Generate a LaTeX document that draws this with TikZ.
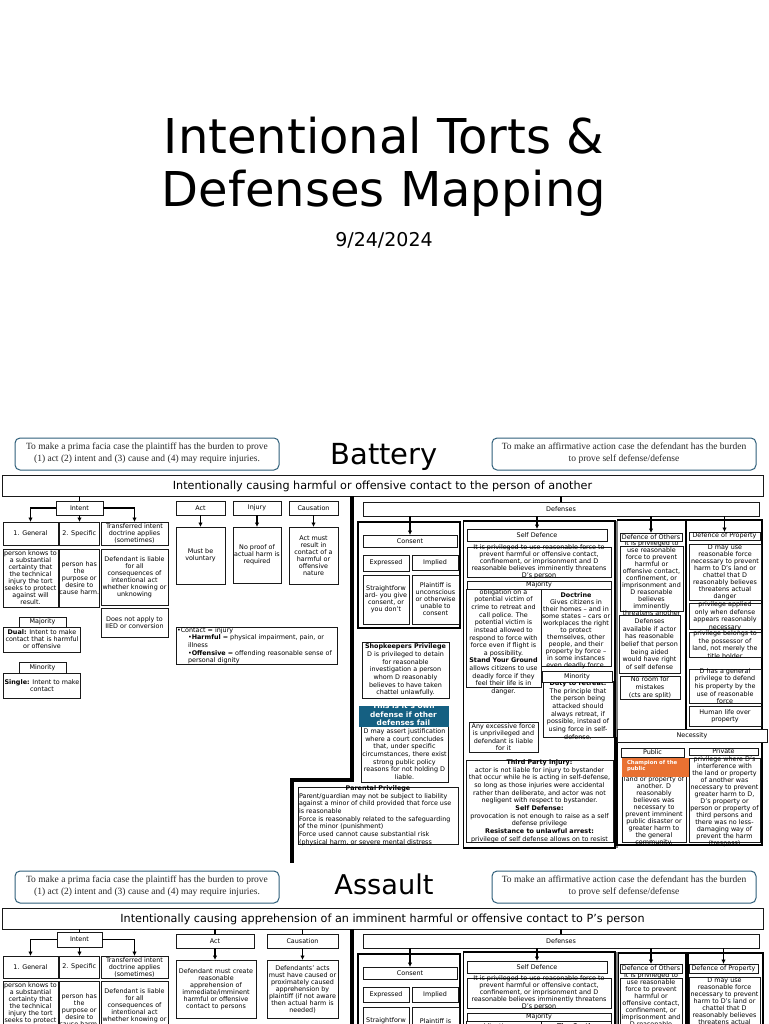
\documentclass[tikz,border=0pt]{standalone}
\usepackage{fontspec}
\setmainfont{DejaVu Sans}
\newfontfamily\serfont{Liberation Serif}
\usetikzlibrary{arrows.meta}
\definecolor{teal1}{HTML}{2F5F7A}
\definecolor{blue1}{HTML}{156082}
\definecolor{orange1}{HTML}{E97132}
\tikzset{
  bxs/.style={draw=black!90,line width=1pt,fill=white,inner sep=0pt,outer sep=0pt,text=black,font=\fontsize{6.4}{7}\selectfont},
  wide/.style={font=\fontsize{6.4}{7.65}\selectfont},
  panel/.style={bxs,draw=black,line width=1.8pt},
  note/.style={bxs,draw=teal1,line width=1pt,rounded corners=5pt,text=black!85,font=\serfont\fontsize{9.5}{11.7}\selectfont},
  banner/.style={bxs,font=\fontsize{11.2}{13}\selectfont},
  conn/.style={draw=black,line width=1.3pt},
  arr/.style={conn,-{Latex[length=4.5pt,width=4.5pt]}},
  thick bar/.style={draw=black,line width=4pt},
  greybar/.style={draw=black!50,line width=2pt},
  big/.style={inner sep=0pt,text=black,align=center}
}
\newcommand{\flatbox}[2]{\setbox0=\hbox{\lower1.6pt\hbox{\parbox[c]{#1}{\centering #2}}}\ht0=0pt\dp0=0pt\box0}
\newcommand{\bx}[7][]{\node[bxs,minimum width={(#5-#3)*1pt},minimum height={(#6-#4)*1pt},#1] (#2) at ({(#3+#5)/2},{(#4+#6)/2}) {\flatbox{\dimexpr#5pt-#3pt}{#7}};}
\begin{document}
\begin{tikzpicture}[x=1pt,y=-1pt]
\path[use as bounding box,clip] (0,0) rectangle (768,1024);
\fill[white] (0,0) rectangle (768,1024);
\node[big,font=\fontsize{48}{53}\selectfont] (title) at (384,167) {Intentional Torts \&\\Defenses Mapping};
\node[big,font=\fontsize{19}{22}\selectfont] (date) at (384,240) {9/24/2024};

%%%% BATTERY
\bx[note]{pa}{15}{438}{279}{470}{To make a prima facia case the plaintiff has the burden to prove\\(1) act (2) intent and (3) cause and (4) may require injuries.}
\bx[note]{da}{492}{438}{756}{470}{To make an affirmative action case the defendant has the burden\\to prove self defense/defense}
\node[big,font=\fontsize{29}{32}\selectfont] (bt) at (384,456.5) {Battery};
\bx[banner]{bb}{2}{475}{763}{496}{\vspace*{3.5pt}Intentionally causing harmful or offensive contact to the person of another}

\bx{bint}{56}{501}{103}{515}{Intent}
\bx{bgen}{3}{522}{58}{545}{1. General}
\bx{bspe}{59}{522}{99.5}{545}{2. Specific}
\bx{btra}{101}{522}{168}{545}{Transferred intent\\doctrine applies\\(sometimes)}
\bx{bk}{3}{549}{58}{607}{person knows to\\a substantial\\certainty that\\the technical\\injury the tort\\seeks to protect\\against will\\result.}
\bx{bh}{59}{549}{99.5}{607}{person has\\the\\purpose or\\desire to\\cause harm.}
\bx{bl}{101}{549}{168}{605}{Defendant is liable\\for all\\consequences of\\intentional act\\whether knowing or\\unknowing}
\bx{bna}{101}{608}{168}{637}{Does not apply to\\IIED or conversion}
\bx{bmaj}{19}{617}{66}{627}{Majority}
\bx{bdual}{3.5}{627}{80.5}{652}{\textbf{Dual:} Intent to make\\contact that is harmful\\or offensive}
\bx{bmin}{19}{662}{66}{673}{Minority}
\bx{bsin}{3.5}{673}{80.5}{698}{\textbf{Single:} Intent to make\\contact}
\bx{bact}{176}{501}{225}{515}{Act}
\bx{binj}{233}{501}{281}{515}{Injury}
\bx{bcau}{289}{501}{338}{515}{Causation}
\bx{bmv}{176}{527}{225}{584}{Must be\\voluntary}
\bx{bnp}{233}{527}{281}{583}{No proof of\\actual harm is\\required}
\bx{bam}{289}{527}{338}{584}{Act must\\result in\\contact of a\\harmful or\\offensive\\nature}
\bx[wide]{bcon}{176}{627}{337}{664}{\raggedright\leftskip=1pt\relax •Contact = injury\\\leftskip=12pt\relax •\textbf{Harmful} = physical impairment, pain, or\\illness\\•\textbf{Offensive} = offending reasonable sense of\\personal dignity}

\draw[conn] (bint.north) -- (bint.north |- bb.south);
\draw[arr] (bint.west) -| (bgen.north);
\draw[arr] (bint.south) -- (bint.south |- bspe.north);
\draw[arr] (bint.east) -| (btra.north);
\draw[arr] (bact.south) -- (bmv.north);
\draw[arr] (binj.south) -- (bnp.north);
\draw[arr] (bcau.south) -- (bam.north);

\coordinate (s1) at (352,496); \coordinate (s2) at (352,780); \coordinate (s3) at (291.5,780); \coordinate (s4) at (291.5,863);
\draw[thick bar,line join=miter] (s1) -- (s2) -- (s3) -- (s4);

\bx{bdef}{363}{502}{759}{516}{Defenses}
\draw[conn] (bdef.north) -- (bdef.north |- bb.south);

\bx[panel]{bp1}{358}{522}{460}{628}{}
\bx[panel]{bp2}{463.5}{521}{615}{848}{}
\bx[panel,line width=1.2pt]{bp3}{617.5}{520}{686}{730}{}
\bx[panel,line width=1.2pt]{bp4}{686}{520}{762}{730}{}
\draw[greybar] ([xshift=1.5pt]bp2.north east) -- ([xshift=1.5pt]bp2.south east);

\bx{bcl}{363}{535}{457}{547}{Consent}
\bx{bex}{363}{555}{409}{571}{Expressed}
\bx{bim}{412}{555}{458}{570}{Implied}
\bx{bst}{363}{575}{409}{624}{Straightforw\\ard- you give\\consent, or\\you don't}
\bx{bpl}{412}{575}{459}{624}{Plaintiff is\\unconscious\\or otherwise\\unable to\\consent}
\draw[arr] (bcl.north |- bdef.south) -- (bcl.north);

\bx[wide]{bsh}{362}{642}{449}{698}{\textbf{Shopkeepers Privilege}\\D is privileged to detain\\for reasonable\\investigation a person\\whom D reasonably\\believes to have taken\\chattel unlawfully.}
\bx[wide]{bjus}{361}{726}{448}{782}{D may assert justification\\where a court concludes\\that, under specific\\circumstances, there exist\\strong public policy\\reasons for not holding D\\liable.}
\node[bxs,draw=blue1,fill=blue1,minimum width=89pt,minimum height=20pt,text=white,align=center,font=\bfseries\fontsize{7.4}{8.6}\selectfont] (bblue) at (403.5,716) {\smash{\parbox[c]{89pt}{\centering This is it's own\\defense if other\\defenses fail}}};
\bx[wide]{bpar}{298}{787}{458}{844}{\textbf{Parental Privilege}\par\raggedright\leftskip=1pt\relax Parent/guardian may not be subject to liability\\against a minor of child provided that force use\\is reasonable\\Force is reasonably related to the safeguarding\\of the minor (punishment)\\Force used cannot cause substantial risk\\(physical harm, or severe mental distress}

\bx{bsl}{467}{529}{607}{541}{Self Defence}
\draw[arr] (bsl.north |- bdef.south) -- (bsl.north);
\bx{bsp}{467}{547}{611}{577}{It is privileged to use reasonable force to\\prevent harmful or offensive contact,\\confinement, or imprisonment and D\\reasonable believes imminently threatens\\D's person}
\bx[wide]{bobl}{466}{589}{541}{687}{\vspace*{8pt}obligation on a\\potential victim of\\crime to retreat and\\call police. The\\potential victim is\\instead allowed to\\respond to force with\\force even if flight is\\a possibility.\\\textbf{Stand Your Ground}\\allows citizens to use\\deadly force if they\\feel their life is in\\danger.}
\bx{bcas}{541}{589}{611}{666}{\textbf{The Castle}\\\textbf{Doctrine}\\Gives citizens in\\their homes -- and in\\some states -- cars or\\workplaces the right\\to protect\\themselves, other\\people, and their\\property by force --\\in some instances\\even deadly force.}
\bx{bmj2}{467}{581}{611}{589}{Majority}
\bx[wide]{bdut}{543}{681}{613}{737}{\vspace*{2pt}\textbf{Duty to retreat:}\\The principle that\\the person being\\attacked should\\always retreat, if\\possible, instead of\\using force in self-\\defense.}
\bx{bmn2}{542}{671}{612}{682}{Minority}
\bx[wide]{bexc}{469}{722}{538}{752}{Any excessive force\\is unprivileged and\\defendant is liable\\for it}
\bx[wide]{b3p}{466}{760}{613}{842}{\textbf{Third Party injury:}\\actor is not liable for injury to bystander\\that occur while he is acting in self-defense,\\so long as those injuries were accidental\\rather than deliberate, and actor was not\\negligent with respect to bystander.\\\textbf{Self Defense:}\\provocation is not enough to raise as a self\\defense privilege\\\textbf{Resistance to unlawful arrest:}\\privilege of self defense allows on to resist}

\bx{bot}{620}{546}{683}{611}{It is privileged to\\use reasonable\\force to prevent\\harmful or\\offensive contact,\\confinement, or\\imprisonment and\\D reasonable\\believes\\imminently\\threatens another}
\bx{bol}{620}{533}{682}{541}{Defence of Others}
\draw[arr] (bol.north |- bdef.south) -- (bol.north);
\bx[wide]{boa}{619}{615}{680}{673}{Defenses\\available if actor\\has reasonable\\belief that person\\being aided\\would have right\\of self defense}
\bx[wide]{bnr}{620}{676}{680}{699}{No room for\\mistakes\\(cts are split)}

\bx{bprl}{689}{532}{760}{540}{Defence of Property}
\draw[arr] (bprl.north |- bdef.south) -- (bprl.north);
\bx{bpr}{689}{544}{761}{600}{D may use\\reasonable force\\necessary to prevent\\harm to D's land or\\chattel that D\\reasonably believes\\threatens actual\\danger}
\bx[wide]{bpa}{689}{603}{761}{629}{privilege applied\\only when defense\\appears reasonably\\necessary}
\bx[wide]{bpb}{689}{632}{761}{657}{privilege belongs to\\the possessor of\\land, not merely the\\title holder}
\bx[wide]{bpg}{689}{669}{761}{703}{D has a general\\privilege to defend\\his property by the\\use of reasonable\\force}
\bx[wide]{bhl}{689}{706}{761}{726}{Human life over\\property}

\bx[panel,line width=1.5pt]{bnp0}{617}{738}{762}{845}{}
\bx{bnec}{617}{729}{767}{742}{Necessity}
\bx{bpub}{621}{748}{684}{757}{Public}
\bx{bpub2}{622}{776}{686}{842}{\vspace*{5pt}land or property of\\another. D\\reasonably\\believes was\\necessary to\\prevent imminent\\public disaster or\\greater harm to\\the general\\community.}
\node[bxs,draw=orange1,fill=orange1,minimum width=66pt,minimum height=18pt,text=white,font=\bfseries\fontsize{5.4}{6.2}\selectfont] (bch) at (655,767) {\smash{\parbox[c]{62pt}{\raggedright\leftskip=3pt\relax Champion of the\\public}}};
\bx{bpri}{689}{758}{760}{842}{D may assert the\\privilege where D's\\interference with\\the land or property\\of another was\\necessary to prevent\\greater harm to D,\\D's property or\\person or property of\\third persons and\\there was no less-\\damaging way of\\prevent the harm\\(trespass)\par\vspace{4pt}}
\bx{bprv}{689}{748}{758}{755}{Private}

%%%% ASSAULT
\bx[note]{pb}{15}{871}{279}{903}{To make a prima facia case the plaintiff has the burden to prove\\(1) act (2) intent and (3) cause and (4) may require injuries.}
\bx[note]{db}{492}{871}{756}{903}{To make an affirmative action case the defendant has the burden\\to prove self defense/defense}
\node[big,font=\fontsize{27.2}{32}\selectfont] (at) at (384,884) {Assault};
\bx[banner]{ab}{2}{908}{763}{929}{\vspace*{3.5pt}Intentionally causing apprehension of an imminent harmful or offensive contact to P's person}

\bx{aint}{57}{932}{102}{947}{Intent}
\bx{agen}{3}{956}{58}{978}{1. General}
\bx{aspe}{59}{956}{99.5}{978}{2. Specific}
\bx{atra}{101}{956}{168}{978}{Transferred intent\\doctrine applies\\(sometimes)}
\bx{ak}{3}{981}{58}{1039}{person knows to\\a substantial\\certainty that\\the technical\\injury the tort\\seeks to protect\par\vspace{14pt}}
\bx{ah}{59}{981}{99.5}{1039}{person has\\the\\purpose or\\desire to\\cause harm.}
\bx{al}{101}{981}{168}{1037}{Defendant is liable\\for all\\consequences of\\intentional act\\whether knowing or\par\vspace{7pt}}
\bx{aact}{176}{934}{254}{948}{Act}
\bx{acau}{267}{934}{338}{948}{Causation}
\bx{ama}{176}{960}{256}{1018}{Defendant must create\\reasonable\\apprehension of\\immediate/imminent\\harmful or offensive\\contact to persons}
\bx{amc}{267}{960}{338}{1018}{Defendants' acts\\must have caused or\\proximately caused\\apprehension by\\plaintiff (if not aware\\then actual harm is\\needed)}
\draw[conn] (aint.north) -- (aint.north |- ab.south);
\draw[arr] (aint.west) -| (agen.north);
\draw[arr] (aint.south) -- (aint.south |- aspe.north);
\draw[arr] (aint.east) -| (atra.north);
\draw[conn] (aact.north) -- (aact.north |- ab.south);
\draw[conn] (acau.north) -- (acau.north |- ab.south);
\draw[arr] (aact.south) -- (aact.south |- ama.north);
\draw[arr] (acau.south) -- (acau.south |- amc.north);

\coordinate (t1) at (352,929); \coordinate (t2) at (352,1024);
\draw[thick bar] (t1) -- (t2);

\bx{adef}{363}{934}{759}{948}{Defenses}
\draw[conn] (adef.north) -- (adef.north |- ab.south);

\bx[panel]{ap1}{358}{954}{460}{1060}{}
\bx[panel]{ap2}{463.5}{952}{615}{1100}{}
\bx[panel,line width=1.2pt]{ap3}{618}{953}{686}{1100}{}
\bx[panel,line width=1.2pt]{ap4}{688}{953}{763}{1100}{}
\draw[greybar] ([xshift=1.5pt]ap2.north east) -- ([xshift=1.5pt]ap2.south east);

\bx{acl}{363}{967}{457}{979}{Consent}
\bx{aex}{363}{987}{409}{1002}{Expressed}
\bx{aim}{412}{987}{458}{1002}{Implied}
\bx{ast}{363}{1007}{409}{1056}{Straightforw\par\vspace{21pt}}
\bx{apl}{412}{1007}{459}{1056}{Plaintiff is\\unconscious\par\vspace{14pt}}
\draw[arr] (acl.north |- adef.south) -- (acl.north);

\bx{asl}{467}{961}{607}{973}{Self Defence}
\draw[arr] (asl.north |- adef.south) -- (asl.north);
\bx{asp}{467}{978}{611}{1008}{It is privileged to use reasonable force to\\prevent harmful or offensive contact,\\confinement, or imprisonment and D\\reasonable believes imminently threatens\\D's person}
\bx{aobl}{466}{1021}{541}{1119}{obligation on a\par\vspace{86pt}}
\bx{acas}{541}{1021}{611}{1098}{\textbf{The Castle}\par\vspace{66pt}}
\bx{amj}{467}{1013}{611}{1021}{Majority}

\bx{aot}{620}{978}{682}{1043}{It is privileged to\\use reasonable\\force to prevent\\harmful or\\offensive contact,\\confinement, or\\imprisonment and\\D reasonable\par\vspace{21pt}}
\bx{aol}{620}{964}{682}{973}{Defence of Others}
\draw[arr] (aol.north |- adef.south) -- (aol.north);
\bx{apr}{689}{977}{760}{1033}{D may use\\reasonable force\\necessary to prevent\\harm to D's land or\\chattel that D\\reasonably believes\\threatens actual\par\vspace{7pt}}
\bx{aprl}{689}{964}{758}{973}{Defence of Property}
\draw[arr] (aprl.north |- adef.south) -- (aprl.north);
\end{tikzpicture}
\end{document}
